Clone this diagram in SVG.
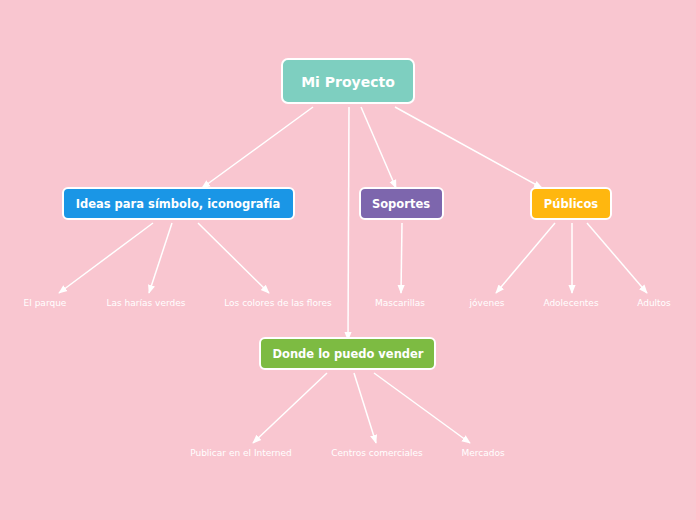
<svg xmlns="http://www.w3.org/2000/svg" width="696" height="520" viewBox="0 0 696 520">
<style>
.n{stroke:#fff;stroke-width:2}
.t{font-family:"DejaVu Sans",sans-serif;font-weight:bold;fill:#fff;text-anchor:middle}
.s{font-family:"DejaVu Sans",sans-serif;font-size:9px;fill:#fff;text-anchor:middle}
#c line{stroke:#fff;stroke-width:1.5;marker-end:url(#a)}
</style>
<defs><marker id="a" viewBox="0 0 10 10" refX="9" refY="5" markerWidth="6" markerHeight="6" orient="auto"><path d="M0,1L10,5L0,9z" fill="#fff"/></marker></defs>
<rect width="696" height="520" fill="#f9c6d0"/>
<g id="c">
<line x1="313" y1="107" x2="202" y2="188"/>
<line x1="349" y1="107" x2="348" y2="340"/>
<line x1="361" y1="107" x2="396" y2="188"/>
<line x1="395" y1="107" x2="542" y2="188"/>
<line x1="153" y1="223" x2="59" y2="293"/>
<line x1="172" y1="223" x2="149" y2="293"/>
<line x1="198" y1="223" x2="269" y2="293"/>
<line x1="402" y1="223" x2="401" y2="293"/>
<line x1="555" y1="223" x2="496" y2="293"/>
<line x1="572" y1="223" x2="572" y2="293"/>
<line x1="587" y1="223" x2="647" y2="293"/>
<line x1="327" y1="373" x2="253" y2="443"/>
<line x1="354" y1="373" x2="376" y2="443"/>
<line x1="374" y1="373" x2="470" y2="443"/>
</g>
<g id="root"><rect class="n" x="282" y="59" width="132" height="44" rx="6" fill="#7ecfc0"/><text class="t" x="348" y="87" font-size="14">Mi Proyecto</text></g>
<g id="ideas"><rect class="n" x="63" y="188" width="231" height="31" rx="5" fill="#1a96e6"/><text class="t" x="178" y="208" font-size="11.5">Ideas para símbolo, iconografía</text></g>
<g id="soportes"><rect class="n" x="360" y="188" width="83" height="31" rx="5" fill="#7d66ad"/><text class="t" x="401" y="208" font-size="11.5">Soportes</text></g>
<g id="publicos"><rect class="n" x="531" y="188" width="80" height="31" rx="5" fill="#ffb70f"/><text class="t" x="571" y="208" font-size="11.5">Públicos</text></g>
<g id="donde"><rect class="n" x="260" y="338" width="175" height="31" rx="5" fill="#7dbb42"/><text class="t" x="348" y="358" font-size="11.5">Donde lo puedo vender</text></g>
<g id="leaves">
<text class="s" x="45" y="306">El parque</text>
<text class="s" x="146" y="306">Las harías verdes</text>
<text class="s" x="278" y="306">Los colores de las flores</text>
<text class="s" x="400" y="306">Mascarillas</text>
<text class="s" x="487" y="306">jóvenes</text>
<text class="s" x="571" y="306">Adolecentes</text>
<text class="s" x="654" y="306">Adultos</text>
<text class="s" x="241" y="456">Publicar en el Interned</text>
<text class="s" x="377" y="456">Centros comerciales</text>
<text class="s" x="483" y="456">Mercados</text>
</g>
</svg>
